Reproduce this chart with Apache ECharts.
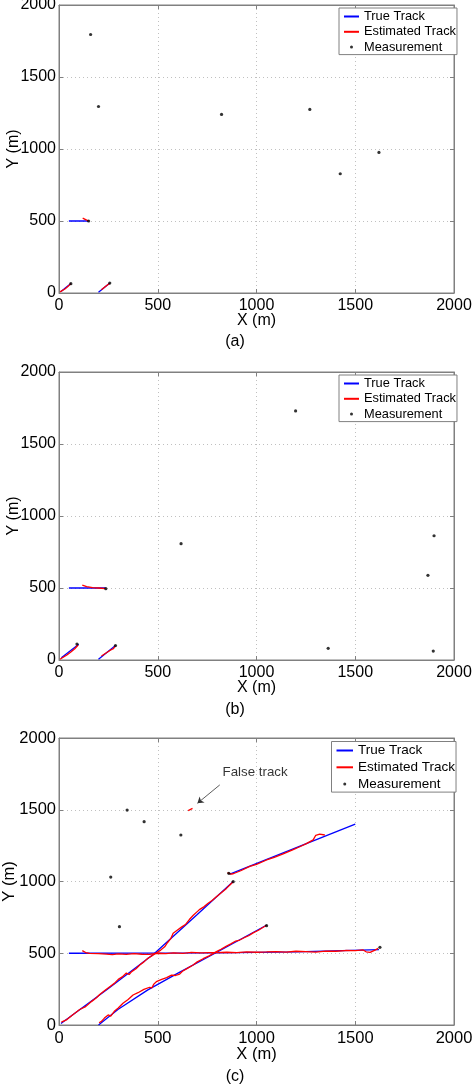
<!DOCTYPE html>
<html><head><meta charset="utf-8">
<script src="https://cdn.jsdelivr.net/npm/echarts/dist/echarts.min.js"></script>
<style>html,body{margin:0;padding:0;background:#fff}#c{width:474px;height:1086px}</style>
</head><body><div id="c"></div><script>
// ---------- data ----------
const TICKS = [0, 500, 1000, 1500, 2000];
const SERIES_NAMES = ['True Track', 'Estimated Track', 'Measurement'];
const CAPTIONS = ['(a)', '(b)', '(c)'];

// (a)
const a_true_A = [[10, 10], [60, 66]];
const a_true_B = [[200, 5], [256, 68]];
const a_true_C = [[50, 500], [150, 500]];
const a_est_A = [[5, 8], [30, 28], [45, 45], [60, 65]];
const a_est_B = [[215, 22], [235, 45], [245, 52], [257, 68]];
const a_est_C = [[120, 520], [135, 510], [150, 500]];
const a_meas = [[160, 1795], [200, 1295], [823, 1240], [1270, 1275], [1620, 976], [1424, 828], [60, 65], [257, 69], [150, 500]];

// (b)
const b_true_A = [[12, 15], [100, 110]];
const b_true_B = [[200, 5], [286, 100]];
const b_true_C = [[50, 500], [235, 500]];
const b_est_A = [[5, 5], [40, 35], [60, 55], [80, 78], [97, 104]];
const b_est_B = [[215, 28], [240, 50], [260, 68], [275, 78], [285, 98]];
const b_est_C = [[118, 520], [140, 510], [170, 502], [200, 500], [235, 495]];
const b_meas = [[1198, 1730], [618, 808], [1899, 863], [1868, 588], [1363, 81], [1895, 62], [237, 495], [91, 111], [286, 100]];

// (c)
const c_true_A = [[10, 10], [250, 255], [480, 495], [700, 770], [882, 1000]];
const c_true_B = [[200, 0], [300, 110], [450, 245], [600, 360], [790, 500], [1050, 695]];
const c_true_C = [[50, 500], [800, 503], [1200, 510], [1620, 525]];
const c_true_D = [[865, 1052], [1500, 1400]];
const c_est_A = [[12, 20], [20, 14], [40, 38], [70, 72], [105, 108], [115, 100], [135, 128], [164, 163], [190, 190], [206, 212], [230, 238], [257, 267], [280, 290], [300, 318], [320, 335], [341, 362], [355, 352], [368, 372], [390, 392], [409, 418], [430, 440], [450, 465], [468, 480], [490, 500], [515, 522], [535, 545], [550, 575], [565, 600], [578, 640], [600, 662], [620, 682], [640, 700], [660, 735], [680, 765], [700, 790], [713, 806], [735, 825], [755, 848], [775, 868], [797, 894], [820, 920], [848, 952], [865, 975], [882, 998]];
const c_est_B = [[203, 16], [215, 25], [230, 48], [249, 70], [262, 62], [280, 95], [300, 118], [324, 151], [350, 178], [375, 209], [400, 225], [430, 248], [459, 263], [470, 258], [480, 285], [493, 302], [520, 318], [545, 330], [570, 348], [590, 345], [611, 355], [625, 375], [650, 395], [679, 418], [700, 440], [730, 462], [760, 482], [797, 511], [820, 528], [848, 550], [870, 565], [895, 585], [915, 592], [940, 610], [960, 622], [983, 642], [1010, 660], [1030, 678], [1051, 695]];
const c_est_C = [[118, 518], [135, 505], [155, 499], [200, 497], [240, 494], [270, 490], [300, 496], [340, 492], [380, 497], [420, 493], [459, 492], [500, 500], [540, 497], [580, 502], [628, 499], [670, 506], [720, 502], [760, 505], [797, 504], [850, 507], [900, 505], [950, 509], [1000, 507], [1051, 509], [1100, 512], [1150, 508], [1200, 514], [1250, 511], [1300, 508], [1350, 515], [1400, 514], [1450, 519], [1500, 518], [1540, 523], [1555, 510], [1575, 506], [1600, 522], [1616, 534]];
const c_est_D = [[853, 1062], [870, 1052], [882, 1054], [920, 1075], [966, 1105], [1000, 1120], [1051, 1150], [1090, 1168], [1135, 1192], [1180, 1218], [1219, 1242], [1250, 1262], [1287, 1290], [1300, 1322], [1320, 1330], [1346, 1324]];
const c_est_false = [[654, 1494], [676, 1510]];
const c_meas = [[345, 1498], [431, 1417], [617, 1324], [262, 1031], [306, 685], [1625, 541], [882, 999], [860, 1057], [1051, 692]];
const c_annot_text = 'False track';
const c_annot_text_pos = [993, 1758];
const c_annot_arrow = [[814, 1673], [701, 1545]];

// ---------- layout / style ----------
const FONT = "'Liberation Sans', Arial, Helvetica, sans-serif";
const AXIS_COLOR = '#808080';
const BLUE = '#0000ff', RED = '#ff0000', BLACK = '#000000';
const grids = [
  { left: 59, top: 5, width: 395, height: 288 },
  { left: 59, top: 372, width: 395, height: 288 },
  { left: 59, top: 738, width: 395, height: 287 }
];
const fs = [16, 16, 16.5];
const yNameGap = [37.5, 37.5, 41];
const xNameGap = [19.5, 19.5, 21];
const legendPos = [
  { left: 339, top: 8, fontSize: 12.8, itemWidth: 15, gap: 2.3 },
  { left: 339, top: 375, fontSize: 12.8, itemWidth: 15, gap: 2.3 },
  { left: 331.5, top: 741.5, fontSize: 13.5, itemWidth: 16.5, gap: 2.8 }
];
const captionY = [341.7, 709.3, 1076.7];

const plots = [
  { trues: [a_true_A, a_true_B, a_true_C], ests: [a_est_A, a_est_B, a_est_C], meas: a_meas },
  { trues: [b_true_A, b_true_B, b_true_C], ests: [b_est_A, b_est_B, b_est_C], meas: b_meas },
  { trues: [c_true_A, c_true_B, c_true_C, c_true_D], ests: [c_est_A, c_est_B, c_est_C, c_est_D, c_est_false], meas: c_meas }
];

const tickFmt = v => (TICKS.indexOf(v) >= 0 ? String(v) : '');
const xAxes = [], yAxes = [];
grids.forEach((g, i) => {
  const common = {
    type: 'value', gridIndex: i, min: TICKS[0], max: TICKS[TICKS.length - 1], interval: TICKS[1] - TICKS[0],
    axisLine: { show: true, onZero: false, lineStyle: { color: AXIS_COLOR, width: 1 } },
    axisTick: { show: true, inside: true, length: 4, lineStyle: { color: AXIS_COLOR } }
  };
  xAxes.push(Object.assign({}, common, {
    position: 'bottom', name: 'X (m)', nameLocation: 'middle', nameGap: xNameGap[i], nameMoveOverlap: false,
    nameTextStyle: { fontFamily: FONT, fontSize: fs[i], color: '#000' },
    axisLabel: { fontFamily: FONT, fontSize: fs[i], color: '#000', margin: 5, formatter: tickFmt },
    splitLine: { show: true, lineStyle: { type: [1, 3], color: '#c0c0c0', width: 1 } }
  }));
  yAxes.push(Object.assign({}, common, {
    position: 'left', name: 'Y (m)', nameLocation: 'middle', nameGap: yNameGap[i], nameRotate: 90, nameMoveOverlap: false,
    nameTextStyle: { fontFamily: FONT, fontSize: fs[i], color: '#000' },
    axisLabel: { fontFamily: FONT, fontSize: fs[i], color: '#000', margin: 3, formatter: tickFmt },
    splitLine: { show: true, lineStyle: { type: [1, 3], color: '#c0c0c0', width: 1 } }
  }));
});
grids.forEach((g, i) => {
  const common = {
    type: 'value', gridIndex: i, min: TICKS[0], max: TICKS[TICKS.length - 1], interval: TICKS[1] - TICKS[0],
    axisLine: { show: true, onZero: false, lineStyle: { color: AXIS_COLOR, width: 1 } },
    axisTick: { show: true, inside: true, length: 4, lineStyle: { color: AXIS_COLOR } },
    axisLabel: { show: false }, splitLine: { show: false }
  };
  xAxes.push(Object.assign({}, common, { position: 'top' }));
  yAxes.push(Object.assign({}, common, { position: 'right' }));
});

const series = [];
plots.forEach((p, i) => {
  p.trues.forEach(d => series.push({
    name: 'True Track', type: 'line', xAxisIndex: i, yAxisIndex: i, data: d, symbol: 'none',
    lineStyle: { color: BLUE, width: 1.3 }, itemStyle: { color: BLUE }, z: 2, animation: false
  }));
  p.ests.forEach(d => series.push({
    name: 'Estimated Track', type: 'line', xAxisIndex: i, yAxisIndex: i, data: d, symbol: 'none',
    lineStyle: { color: RED, width: 1.3 }, itemStyle: { color: RED }, z: 3, animation: false
  }));
  series.push({
    name: 'Measurement', type: 'scatter', xAxisIndex: i, yAxisIndex: i, data: p.meas, symbol: 'circle', symbolSize: 3.2,
    itemStyle: { color: BLACK }, z: 4, animation: false
  });
});
// annotation in (c)
series.push({
  name: 'annotArrow', type: 'lines', coordinateSystem: 'cartesian2d', xAxisIndex: 2, yAxisIndex: 2,
  data: [{ coords: c_annot_arrow }], symbol: ['none', 'arrow'], symbolSize: 6,
  lineStyle: { color: '#333', width: 0.8, opacity: 1 }, z: 5, animation: false, silent: true
});
series.push({
  name: 'annotText', type: 'scatter', xAxisIndex: 2, yAxisIndex: 2, data: [c_annot_text_pos],
  symbolSize: 1, itemStyle: { color: 'transparent' }, silent: true, animation: false,
  label: { show: true, position: 'inside', formatter: c_annot_text, fontFamily: FONT, fontSize: 13.3, color: '#000' }
});

const legends = legendPos.map(l => ({
  orient: 'vertical', left: l.left, top: l.top,
  data: SERIES_NAMES.map(n => n === 'Measurement' ? { name: n, icon: 'circle' } : { name: n, itemStyle: { opacity: 0 } }),
  itemWidth: l.itemWidth, itemHeight: 3, itemGap: l.gap, itemTextGap: 2.5,
  textStyle: { fontFamily: FONT, fontSize: l.fontSize, color: '#000', lineHeight: 13 },
  borderColor: AXIS_COLOR, borderWidth: 1, padding: [2, 1, 1, 4], backgroundColor: '#fff',
  selectedMode: false
}));

const graphics = CAPTIONS.map((t, i) => ({
  type: 'text', x: 235, y: captionY[i],
  style: { text: t, font: '16px ' + FONT, fill: '#000', align: 'center', verticalAlign: 'middle' }
}));

const chart = echarts.init(document.getElementById('c'), null, { renderer: 'canvas' });
chart.setOption({
  animation: false,
  backgroundColor: '#fff',
  grid: grids.map(g => Object.assign({ show: true, borderColor: AXIS_COLOR, borderWidth: 1, backgroundColor: 'transparent', containLabel: false, outerBoundsMode: 'none' }, g)),
  xAxis: xAxes, yAxis: yAxes, legend: legends, series: series, graphic: graphics
});
</script></body></html>
